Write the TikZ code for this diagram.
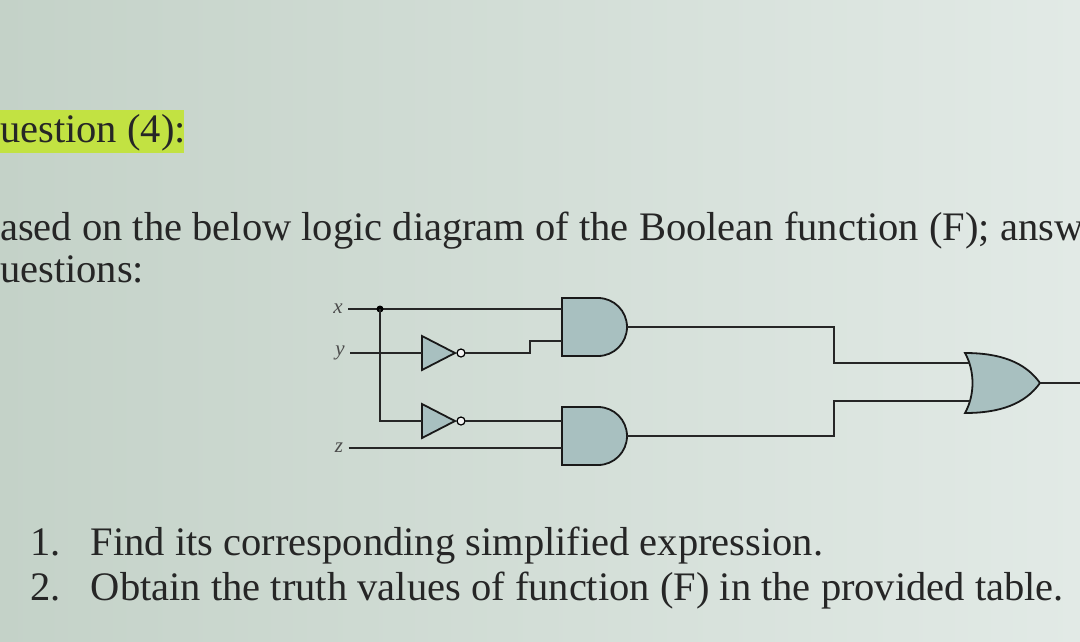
\documentclass[tikz,border=0pt]{standalone}
\usepackage{fontspec}
\setmainfont{Liberation Serif}
\begin{document}
\begin{tikzpicture}[x=1pt,y=-1pt,
  wire/.style={line width=1.4pt,draw=black!85},
  gate/.style={line width=1.8pt,draw=black!90,fill=gatec},
  lbl/.style={font=\fontsize{21}{21}\selectfont\itshape,text=black!70},
  big/.style={font=\fontsize{40.5}{44}\selectfont,text=black!85,inner sep=0pt,anchor=base west}]
\definecolor{gatec}{RGB}{168,192,192}
\definecolor{bgl}{RGB}{196,210,200}
\definecolor{bgr}{RGB}{226,234,230}
\useasboundingbox (0,0) rectangle (1080,641);
\clip (0,0) rectangle (1080,641);
\shade[left color=bgl,right color=bgr] (0,0) rectangle (1080,641);
% header
\fill[yellow!70!green!80] (0,110) rectangle (184,153);
\node[big] (q) at (0,142) {uestion (4):};
\node[big] (l1) at (0,240) {ased on the below logic diagram of the Boolean function (F); answ};
\node[big] (l2) at (0,282) {uestions:};
\node[big] (i1) at (30,555) {1.\hspace{0.75em}Find its corresponding simplified expression.};
\node[big] (i2) at (30,600) {2.\hspace{0.75em}Obtain the truth values of function (F) in the provided table.};
% labels
\node[lbl] (x) at (338,309) {x};
\node[lbl] (y) at (340,353) {y};
\node[lbl] (z) at (339,448) {z};
\coordinate (dot) at (380,309);
% AND gates
\draw[gate] (562,298) -- (598,298) arc[start angle=-90,end angle=90,radius=29] -- (562,356) -- cycle;
\coordinate (a1o) at (627,327);
\draw[gate] (562,407) -- (598,407) arc[start angle=-90,end angle=90,radius=29] -- (562,465) -- cycle;
\coordinate (a2o) at (627,436);
% OR gate
\draw[gate] (965,353) .. controls (1000,353) and (1025,362) .. (1040,383)
  .. controls (1025,404) and (1000,413) .. (965,413)
  .. controls (975,395) and (975,371) .. cycle;
\coordinate (oro) at (1040,383);
% inverters
\draw[gate] (422,336) -- (455,353) -- (422,370) -- cycle;
\draw[line width=1.2pt,fill=white!90!gray] (461,353) circle (4);
\coordinate (n1o) at (465,353);
\draw[gate] (422,404) -- (455,421) -- (422,438) -- cycle;
\draw[line width=1.2pt,fill=white!90!gray] (461,421) circle (4);
\coordinate (n2o) at (465,421);
% wires
\draw[wire] (x.east) ++(2,0) -- (562,309);
\fill (dot) circle (3.5);
\draw[wire] (dot) -- (380,421) -- (422,421);
\draw[wire] (y.east) ++(2,0) -- (422,353);
\draw[wire] (n1o) -- (530,353) -- (530,341) -- (562,341);
\draw[wire] (n2o) -- (562,421);
\draw[wire] (z.east) ++(2,0) -- (562,448);
\draw[wire] (a1o) -- (834,327) -- (834,363) -- (970,363);
\draw[wire] (a2o) -- (834,436) -- (834,401) -- (970,401);
\draw[wire] (oro) -- (1080,383);
\end{tikzpicture}
\end{document}
